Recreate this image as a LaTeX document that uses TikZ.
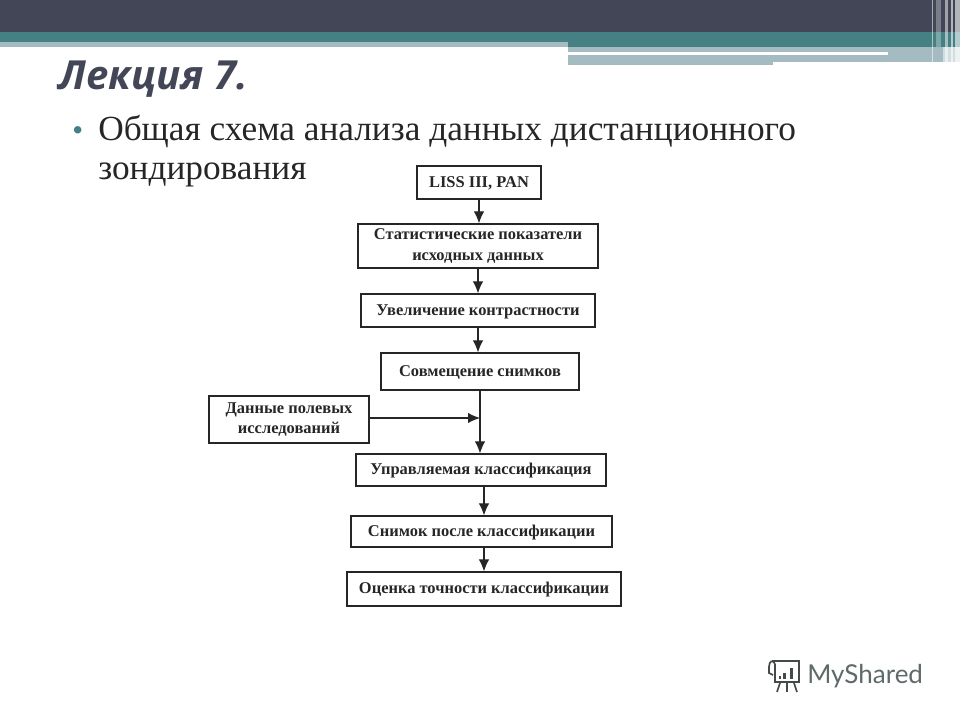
\documentclass[tikz,border=0pt]{standalone}
\usepackage{fontspec}
\setmainfont{Liberation Serif}
\newfontfamily\titlefont{Open Sans}
\newfontfamily\logofont{Lato}
\usetikzlibrary{arrows.meta,positioning}
\definecolor{bandDark}{HTML}{434656}
\definecolor{bandTeal}{HTML}{458085}
\definecolor{bandLight}{HTML}{A4BCC1}
\definecolor{logoGray}{HTML}{5F6A6A}
\tikzset{oneline/.style={text height=8pt,text depth=1pt}}

\begin{document}
\begin{tikzpicture}[x=0.025cm,y=-0.025cm]
	\useasboundingbox (0,0) rectangle (960,720);
	% header bands
	\fill[bandDark] (0,0) rectangle (960,32);
	\fill[bandLight] (0,42) rectangle (568,47);
	\fill[bandLight] (568,46) rectangle (773,65);
	\fill[bandLight] (773,46) rectangle (960,62);
	\fill[bandTeal] (0,32) rectangle (568,42);
	\fill[bandTeal] (568,32) rectangle (960,47);
	\fill[white] (568,52) rectangle (888,55);
	\fill[white,opacity=.3] (936,0) rectangle (941,47);
	\fill[white,opacity=.55] (932,0) rectangle (933,62);
	\fill[white,opacity=.5] (943,47) rectangle (960,65);
	\fill[white,opacity=.5] (945,0) rectangle (948,65);
	\fill[white,opacity=.6] (951,0) rectangle (953,65);
	\fill[white,opacity=.6] (955,0) rectangle (960,65);

	\node[anchor=base west,inner sep=0pt,text=bandDark,font=\titlefont\bfseries\itshape\fontsize{28.5}{34}\selectfont] (title) at (58,90) {Лекция 7.};
	\node[anchor=base west,inner sep=0pt,text=bandTeal,font=\fontsize{22}{24}\selectfont] (bullet) at (72,141) {•};
	\node[anchor=base west,inner sep=0pt,font=\fontsize{25.1}{28}\selectfont,text=black!85] (line1) at (98,141) {Общая схема анализа данных дистанционного};
	\node[anchor=base west,inner sep=0pt,font=\fontsize{25.1}{28}\selectfont,text=black!85] (line2) at (98,180) {зондирования};

	\begin{scope}[every node/.style={rectangle,draw=black!85,line width=0.8pt,inner sep=0pt,align=center,font=\bfseries\fontsize{11.7}{14.4}\selectfont,text=black!85}]
		\node[oneline,minimum width=124*0.025cm,minimum height=33*0.025cm] (liss) at (479,182.5) {LISS III, PAN};
		\node[minimum width=240*0.025cm,minimum height=44*0.025cm] (stats) at (478,246) {Статистические показатели\\исходных данных};
		\node[oneline,minimum width=234*0.025cm,minimum height=33*0.025cm] (contrast) at (478,310.5) {Увеличение контрастности};
		\node[oneline,minimum width=198*0.025cm,minimum height=37*0.025cm] (merge) at (480,371.5) {Совмещение снимков};
		\node[minimum width=160*0.025cm,minimum height=47*0.025cm] (field) at (289,419.5) {Данные полевых\\исследований};
		\node[oneline,minimum width=250*0.025cm,minimum height=32*0.025cm] (classify) at (481,470) {Управляемая классификация};
		\node[oneline,minimum width=261*0.025cm,minimum height=31*0.025cm] (image) at (481.5,531.5) {Снимок после классификации};
		\node[oneline,minimum width=274*0.025cm,minimum height=34*0.025cm] (accuracy) at (484,589) {Оценка точности классификации};
	\end{scope}

	\coordinate (junction) at (480,418);

	\begin{scope}[every path/.style={draw=black!85,line width=0.8pt}]
	\draw[-{Latex[length=3mm,width=2.6mm]}] (liss.south) -- (liss.south|-stats.north);
	\draw[-{Latex[length=3mm,width=2.6mm]}] (stats.south) -- (stats.south|-contrast.north);
	\draw[-{Latex[length=3mm,width=2.6mm]}] (contrast.south) -- (contrast.south|-merge.north);
	\draw[-{Latex[length=3mm,width=2.6mm]}] (merge.south) -- (merge.south|-classify.north);
	\draw[-{Latex[length=3mm,width=2.6mm]}] (field.east|-junction) -- (junction);
	\draw[-{Latex[length=3mm,width=2.6mm]}] (accuracy.north|-classify.south) -- (accuracy.north|-image.north);
	\draw[-{Latex[length=3mm,width=2.6mm]}] (accuracy.north|-image.south) -- (accuracy.north);
	\end{scope}

	% logo
	\node[anchor=base west,inner sep=0pt,text=logoGray,font=\logofont\fontsize{18.5}{24}\selectfont] (logo) at (807,683) {MyShared};
	\begin{scope}[line width=1.2pt]
		\draw[logoGray!70!black] (772,661) -- (799,661) -- (799,682) -- (775,682) -- (775,664);
		\draw[logoGray!70!black] (775,664) .. controls (773,659) and (769,661) .. (769,667) -- (769,673) -- (773,675);
		\draw[logoGray!70!black] (780,683) -- (777,692);
		\draw[logoGray!70!black] (787,683) -- (787,692);
		\draw[logoGray!70!black] (794,683) -- (797,692);
		\fill[logoGray!70!black] (779,676) rectangle (781,679);
		\fill[logoGray!70!black] (783,673) rectangle (786,679);
		\fill[logoGray!70!black] (790,668) rectangle (793,679);
	\end{scope}
\end{tikzpicture}
\end{document}
